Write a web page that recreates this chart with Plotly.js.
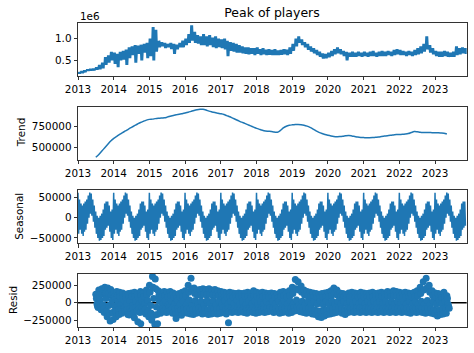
<!DOCTYPE html>
<html><head><meta charset="utf-8">
<script src="https://cdn.plot.ly/plotly-3.0.1.min.js"></script>
<style>html,body{margin:0;padding:0;background:#fff}#chart{width:474px;height:353px}</style>
</head><body><div id="chart"></div>
<script>
const chartTitle = 'Peak of players';
const yearLabels = ['2013','2014','2015','2016','2017','2018','2019','2020','2021','2022','2023'];
const yearTicks = yearLabels.map(y => y + '-01-01');
const xRange = ['2013-01-01', '2023-11-21'];

// Observed (millions of players), monthly upper / lower envelope, Jan 2013 .. Nov 2023
const obsStart = [2013, 1];
const obsHi = [
 0.24,0.26,0.28,0.30,0.31,0.32,0.35,0.40,0.45,0.58,0.62,0.70,
 0.68,0.65,0.70,0.72,0.75,0.80,0.82,0.85,0.84,0.86,0.88,0.90,
 1.00,1.26,1.20,0.95,0.92,0.90,0.88,0.90,0.88,0.86,0.90,0.95,
 1.00,1.10,1.30,1.15,1.08,1.05,1.10,1.05,1.08,1.02,1.05,1.00,
 0.98,1.00,0.95,0.92,0.90,0.88,0.85,0.82,0.80,0.80,0.78,0.78,
 0.80,0.76,0.78,0.75,0.76,0.74,0.76,0.73,0.74,0.76,0.75,0.80,
 0.88,1.00,1.05,0.98,0.92,0.88,0.82,0.78,0.74,0.70,0.66,0.65,
 0.68,0.72,0.76,0.80,0.76,0.72,0.70,0.68,0.70,0.68,0.70,0.68,
 0.70,0.68,0.70,0.72,0.68,0.70,0.72,0.70,0.72,0.70,0.74,0.76,
 0.74,0.72,0.70,0.72,0.70,0.74,0.78,0.82,0.88,1.05,0.85,0.78,
 0.72,0.70,0.70,0.72,0.70,0.68,0.70,0.82,0.78,0.80,0.78
];
const obsLo = [
 0.20,0.21,0.23,0.26,0.27,0.27,0.29,0.30,0.32,0.40,0.45,0.50,
 0.42,0.35,0.50,0.52,0.40,0.55,0.62,0.45,0.65,0.50,0.68,0.55,
 0.60,0.50,0.70,0.80,0.82,0.78,0.80,0.76,0.65,0.75,0.80,0.80,
 0.85,0.90,0.95,0.90,0.88,0.85,0.85,0.82,0.85,0.80,0.78,0.80,
 0.78,0.75,0.60,0.72,0.70,0.68,0.68,0.66,0.65,0.64,0.65,0.62,
 0.65,0.62,0.64,0.62,0.63,0.62,0.62,0.62,0.63,0.64,0.62,0.65,
 0.72,0.82,0.90,0.85,0.80,0.74,0.70,0.66,0.62,0.58,0.54,0.55,
 0.57,0.60,0.64,0.66,0.64,0.60,0.50,0.58,0.58,0.58,0.60,0.58,
 0.60,0.58,0.60,0.60,0.58,0.60,0.60,0.60,0.62,0.60,0.62,0.64,
 0.62,0.62,0.60,0.62,0.60,0.62,0.64,0.66,0.70,0.75,0.68,0.64,
 0.60,0.58,0.58,0.60,0.58,0.58,0.58,0.62,0.64,0.66,0.65
];

// Trend (thousands of players), monthly, Jul 2013 .. May 2023
const trendStart = [2013, 7];
const trendK = [
 386,420,460,500,540,580,
 612,635,658,680,700,722,742,762,782,800,815,828,
 837,840,846,850,852,856,864,874,884,893,898,905,
 913,922,932,943,952,958,957,948,935,926,918,911,
 904,895,882,868,852,836,820,804,790,775,760,745,
 730,718,708,700,696,692,686,684,705,735,755,766,
 772,776,777,774,768,757,742,722,700,682,668,657,
 648,640,634,631,632,636,642,645,640,633,626,622,
 620,618,618,620,624,628,633,638,643,648,652,656,
 658,659,662,668,680,692,690,684,681,680,680,679,
 679,678,676,673,663
];

// Seasonal yearly profile (thousands), half-month upper / lower envelope
const seasonalHi = [62,45,35,30,35,40,45,55,62,60,45,30,15,5,0,5,10,20,35,40,40,30,15,20];
const seasonalLo = [-40,-30,-40,-45,-35,-30,-15,0,10,5,-10,-25,-40,-50,-57,-55,-50,-45,-30,-25,-20,-35,-50,-55];

// Residuals (thousands), monthly levels from top to bottom of the cloud, Jul 2013 .. May 2023
const residStart = [2013, 7];
const residHi = [
 120,180,200,220,210,190,
 150,160,150,140,120,130,140,150,130,160,140,180,
 250,376,340,170,150,160,150,160,140,120,130,150,
 170,250,350,210,180,190,200,190,200,180,190,170,
 160,150,140,150,140,130,140,130,140,150,140,170,
 150,140,150,140,130,140,130,120,150,160,140,170,
 220,330,300,240,180,160,150,140,130,120,130,140,
 150,170,210,180,140,130,120,140,150,140,130,150,
 140,130,140,150,130,140,150,140,160,150,170,160,
 150,140,150,140,130,150,170,220,300,350,250,170,
 140,130,120,150,100
];
const residQ1 = [
 60,110,120,130,130,110,
 90,100,90,80,70,80,90,90,80,100,90,110,
 150,220,200,100,90,100,90,100,80,70,80,90,
 100,150,200,130,110,110,120,110,120,110,110,100,
 100,90,80,90,80,80,90,80,90,90,80,100,
 90,80,90,80,80,80,80,70,90,100,80,100,
 130,200,180,150,110,100,90,80,80,70,80,80,
 90,100,130,110,80,80,70,80,90,80,80,90,
 80,80,80,90,80,80,90,80,100,90,100,100,
 90,80,90,80,80,90,100,130,180,210,150,100,
 80,80,70,90,60
];
const residMid = [
 -20,40,-30,60,-40,30,
 -50,20,-30,40,-20,30,-40,20,-30,40,-20,30,
 -40,60,-60,20,-20,30,-30,20,-20,30,-20,20,
 -30,40,-40,30,-20,20,-30,30,-20,30,-30,20,
 -20,30,-30,20,-20,30,-20,20,-30,20,-20,20,
 -20,20,-20,20,-20,20,-20,20,-20,20,-20,20,
 -20,40,-30,20,-20,20,-20,20,-20,20,-30,20,
 -20,20,-20,20,-20,20,-20,20,-20,20,-20,20,
 -20,20,-20,20,-20,20,-20,20,-20,20,-20,20,
 -20,20,-20,20,-20,20,-20,20,-20,30,-20,20,
 -20,20,-20,20,-20
];
const residQ3 = [
 -50,-60,-90,-120,-150,-140,
 -120,-100,-90,-70,-100,-80,-80,-70,-80,-80,-90,-120,
 -150,-180,-170,-90,-80,-80,-70,-90,-90,-80,-100,-80,
 -90,-90,-100,-90,-80,-90,-90,-100,-90,-90,-90,-90,
 -80,-90,-80,-80,-80,-80,-80,-80,-90,-80,-80,-90,
 -80,-80,-80,-80,-70,-80,-80,-90,-80,-80,-90,-80,
 -70,-70,-80,-80,-90,-80,-90,-100,-120,-120,-110,-100,
 -90,-90,-80,-80,-90,-100,-80,-80,-80,-80,-80,-80,
 -80,-80,-80,-80,-80,-80,-80,-80,-80,-80,-80,-80,
 -80,-80,-80,-90,-80,-80,-80,-80,-90,-80,-90,-100,
 -110,-100,-90,-90,-50
];
const residLo = [
 -70,-100,-140,-200,-260,-240,
 -200,-170,-150,-120,-170,-130,-140,-120,-140,-130,-160,-200,
 -250,-313,-300,-150,-130,-140,-120,-150,-160,-130,-180,-140,
 -150,-160,-170,-150,-140,-160,-150,-170,-160,-150,-160,-150,
 -140,-160,-130,-140,-130,-140,-130,-140,-150,-130,-140,-150,
 -140,-130,-140,-130,-120,-140,-130,-150,-140,-130,-150,-140,
 -120,-110,-130,-140,-150,-140,-160,-170,-200,-210,-190,-170,
 -160,-150,-140,-130,-150,-170,-140,-130,-140,-130,-140,-130,
 -140,-130,-140,-130,-140,-130,-140,-130,-140,-130,-140,-130,
 -140,-130,-140,-150,-130,-140,-130,-140,-150,-140,-150,-160,
 -190,-170,-160,-150,-80
];
const residOutlierDates = ['2014-06-10','2014-08-01','2014-09-05','2014-10-05','2015-10-01','2017-03-20'];
const residOutlierK = [-176,-214,-271,-300,-225,-286];

// ---------- build ----------
function pad(n){return (n<10?'0':'')+n;}
function dateOf(y,m,d){ while(m>12){m-=12;y++;} return y+'-'+pad(m)+'-'+pad(d); }

const obsX=[], obsY=[];
obsHi.forEach((h,i)=>{
  const y=obsStart[0], m=obsStart[1]+i;
  obsX.push(dateOf(y,m,1)); obsY.push(h);
  obsX.push(dateOf(y,m,8)); obsY.push(obsLo[i]);
  obsX.push(dateOf(y,m,16)); obsY.push(h);
  obsX.push(dateOf(y,m,23)); obsY.push(obsLo[i]);
});

const trendX=[], trendY=[];
trendK.forEach((v,i)=>{ trendX.push(dateOf(trendStart[0],trendStart[1]+i,2)); trendY.push(v*1000); });

const seasX=[], seasY=[];
for(let yr=2013; yr<=2023; yr++){
  seasonalHi.forEach((h,k)=>{
    const m=Math.floor(k/2)+1, d=(k%2)?16:1;
    const d2=(k%2)?23:8;
    if(yr===2023 && (m>11 || (m===11 && d2>21))) return;
    seasX.push(dateOf(yr,m,d)); seasY.push(h*1000);
    seasX.push(dateOf(yr,m,d2)); seasY.push(seasonalLo[k]*1000);
  });
}

const resX=[], resY=[];
const residLevels=[[residHi,2],[residQ1,8],[residMid,14],[residQ3,20],[residLo,26]];
residHi.forEach((_,i)=>{
  const y=residStart[0], m=residStart[1]+i;
  residLevels.forEach(([arr,day])=>{ resX.push(dateOf(y,m,day)); resY.push(arr[i]*1000); });
});
residOutlierDates.forEach((d,i)=>{ resX.push(d); resY.push(residOutlierK[i]*1000); });

const blue='#1f77b4';
const FONT='DejaVu Sans';
const FS=10.4;
const traces=[
  {x:obsX,y:obsY,type:'scatter',mode:'lines',line:{color:blue,width:1.5},xaxis:'x',yaxis:'y',hoverinfo:'skip'},
  {x:trendX,y:trendY,type:'scatter',mode:'lines',line:{color:blue,width:1.5,shape:'spline'},xaxis:'x2',yaxis:'y2',hoverinfo:'skip'},
  {x:seasX,y:seasY,type:'scatter',mode:'lines',line:{color:blue,width:1.5},xaxis:'x3',yaxis:'y3',hoverinfo:'skip'},
  {x:resX,y:resY,type:'scatter',mode:'markers',marker:{color:blue,size:7,line:{width:0}},xaxis:'x4',yaxis:'y4',hoverinfo:'skip'}
];

const W=474,H=353;
const xDom=[78/W, 466.7/W];
function yd(top,bot){return [1-bot/H, 1-top/H];}
const axBase={showgrid:false,zeroline:false,showline:true,mirror:true,linecolor:'#000',linewidth:0.8,
  ticks:'outside',ticklen:3.6,tickwidth:0.8,tickcolor:'#000',tickfont:{family:FONT,size:FS,color:'#000'}};
function xa(anchor){return Object.assign({},axBase,{type:'date',domain:xDom,range:xRange,tickmode:'array',tickvals:yearTicks,ticktext:yearLabels,anchor:anchor});}
function ya(anchor,dom,range,tv,tt){return Object.assign({},axBase,{domain:dom,range:range,tickmode:'array',tickvals:tv,ticktext:tt,anchor:anchor});}

const layout={
  width:W,height:H,margin:{l:0,r:0,t:0,b:0},paper_bgcolor:'#fff',plot_bgcolor:'#fff',showlegend:false,
  font:{family:FONT,size:FS,color:'#000'},
  title:{text:chartTitle,font:{family:FONT,size:12.5,color:'#000'},x:272/W,xanchor:'center',xref:'paper',y:1-12.5/H,yref:'container',yanchor:'middle'},
  xaxis:xa('y'), xaxis2:xa('y2'), xaxis3:xa('y3'), xaxis4:xa('y4'),
  yaxis: ya('x', yd(23,76), [0.148,1.352], [0.5,1.0], ['0.5','1.0']),
  yaxis2: ya('x2', yd(106.7,159.7), [357000,988000], [500000,750000], ['500000','750000']),
  yaxis3: ya('x3', yd(190.3,243.3), [-63400,67800], [-50000,0,50000], ['\u221250000','0','50000']),
  yaxis4: ya('x4', yd(274,327), [-347000,410000], [-250000,0,250000], ['\u2212250000','0','250000']),
  shapes:[{type:'line',xref:'x4 domain',yref:'y4',x0:0,x1:1,y0:0,y1:0,line:{color:'#000',width:1.6},layer:'below'}],
  annotations:[
    {text:'1e6',xref:'paper',yref:'paper',x:78/W,y:1-16/H,xanchor:'left',yanchor:'middle',showarrow:false,font:{family:FONT,size:FS,color:'#000'}},
    {text:'Trend',xref:'paper',yref:'paper',x:21/W,y:1-133.2/H,textangle:-90,xanchor:'center',yanchor:'middle',showarrow:false,font:{family:FONT,size:FS,color:'#000'}},
    {text:'Seasonal',xref:'paper',yref:'paper',x:19/W,y:1-216.8/H,textangle:-90,xanchor:'center',yanchor:'middle',showarrow:false,font:{family:FONT,size:FS,color:'#000'}},
    {text:'Resid',xref:'paper',yref:'paper',x:12.5/W,y:1-300.5/H,textangle:-90,xanchor:'center',yanchor:'middle',showarrow:false,font:{family:FONT,size:FS,color:'#000'}}
  ]
};
Plotly.newPlot('chart',traces,layout,{staticPlot:true,displayModeBar:false});
</script>
</body></html>
